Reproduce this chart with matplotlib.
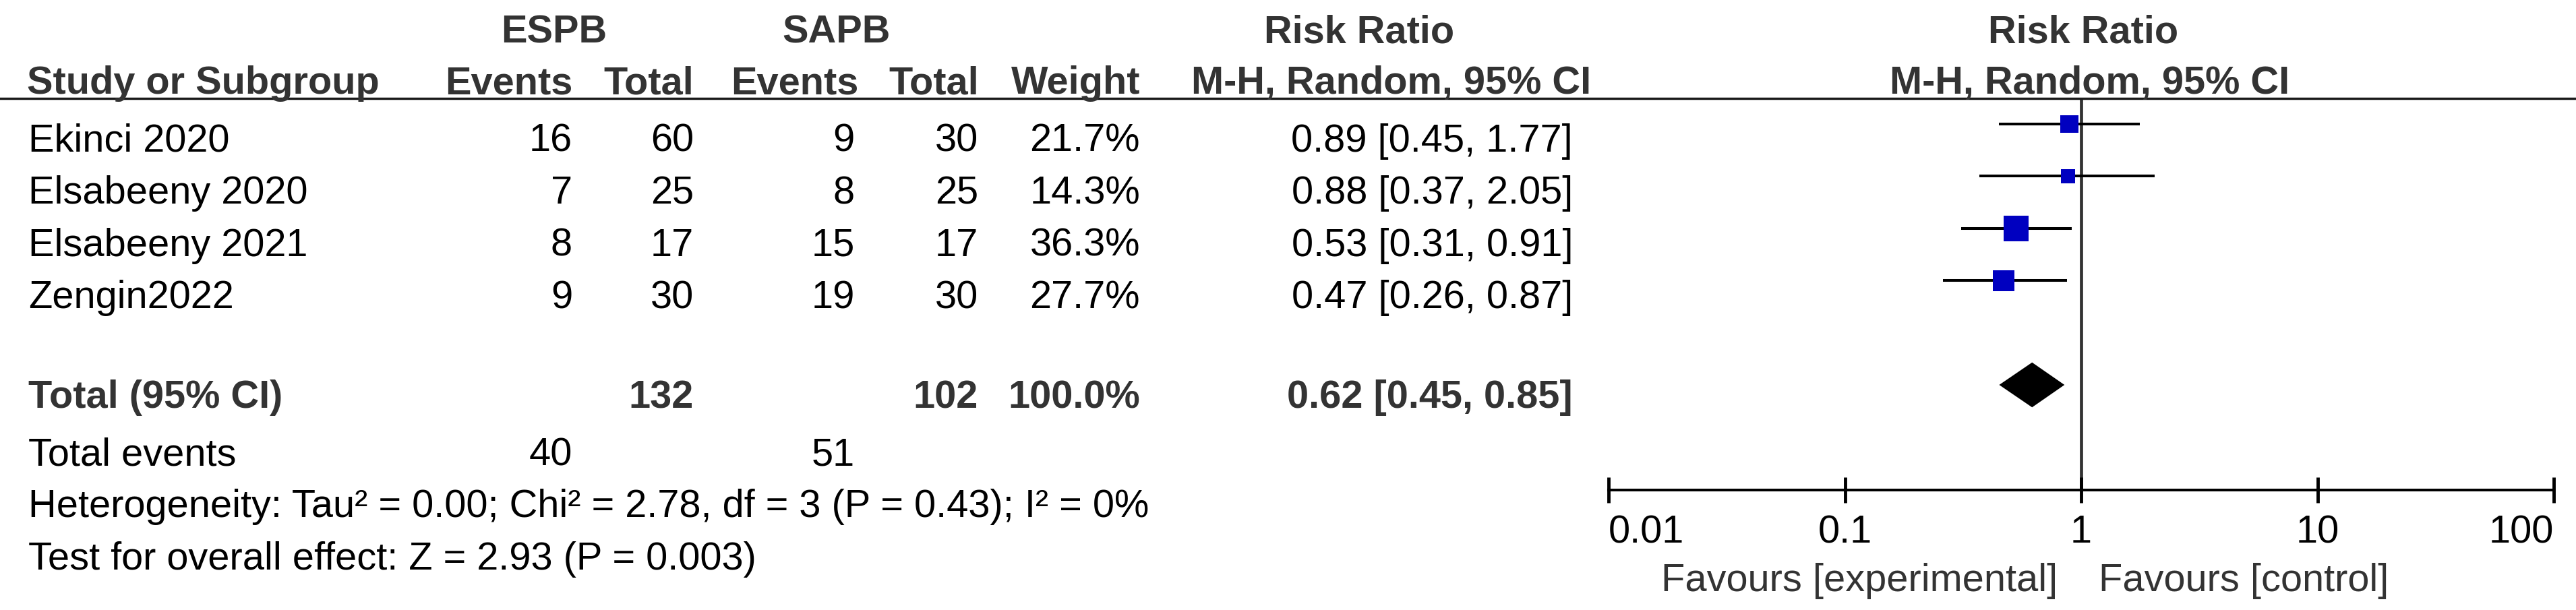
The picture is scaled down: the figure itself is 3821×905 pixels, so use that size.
import numpy as np
import matplotlib
matplotlib.use("Agg")
import matplotlib.pyplot as plt
from matplotlib.transforms import blended_transform_factory
from matplotlib.patches import Polygon
from matplotlib.lines import Line2D
from matplotlib.ticker import NullLocator

# DATA
studies = ["Ekinci 2020", "Elsabeeny 2020", "Elsabeeny 2021", "Zengin2022"]
espb_events = [16, 7, 8, 9]
espb_total = [60, 25, 17, 30]
sapb_events = [9, 8, 15, 19]
sapb_total = [30, 25, 17, 30]
weights = [21.7, 14.3, 36.3, 27.7]
rr = [0.89, 0.88, 0.53, 0.47]
ci_low = [0.45, 0.37, 0.31, 0.26]
ci_high = [1.77, 2.05, 0.91, 0.87]

pooled = [0.62, 0.45, 0.85]
sum_total = [132, 102]
sum_events = [40, 51]
het_text = "Heterogeneity: Tau² = 0.00; Chi² = 2.78, df = 3 (P = 0.43); I² = 0%"
test_text = "Test for overall effect: Z = 2.93 (P = 0.003)"

xticks = [0.01, 0.1, 1, 10, 100]
xtick_labels = ["0.01", "0.1", "1", "10", "100"]
favours = ["Favours [experimental]", "Favours [control]"]

plt.rcParams['font.family'] = ['Liberation Sans', 'DejaVu Sans']

W, H = 3821, 905
FS = 41.6
GREY = '#333333'

fig = plt.figure(figsize=(W / 100, H / 100), dpi=100)
ax = fig.add_axes([2386 / W, 1 - 727 / H, (3788 - 2386) / W, (727 - 146) / H])
ax.set_xscale('log')
ax.set_xlim(0.01, 100)
ax.set_ylim(7.015, -0.49)

rows = np.arange(len(studies))

# CI LINES AND WEIGHTED SQUARES
ax.hlines(rows, ci_low, ci_high, color='black', lw=2.9, zorder=2)
side = 7.3 + 0.547 * np.array(weights)
ax.scatter(rr, rows, s=side ** 2, marker='s', color='#0000C0',
           linewidths=0, zorder=3)

# POOLED DIAMOND
y_tot = 5
h = 0.43
est, lo, hi = pooled
ax.add_patch(Polygon([[lo, y_tot], [est, y_tot - h], [hi, y_tot],
                      [est, y_tot + h]], closed=True,
                     facecolor='black', edgecolor='black', lw=0, zorder=3))

ax.axvline(1, color=GREY, lw=3.4, zorder=1)

for s in ['top', 'left', 'right']:
    ax.spines[s].set_visible(False)
ax.spines['bottom'].set_linewidth(2.9)
ax.set_yticks([])
ax.set_xticks(xticks)
ax.xaxis.set_minor_locator(NullLocator())
labels = ax.set_xticklabels(xtick_labels)
ax.tick_params(axis='x', direction='inout', length=28, width=3.5,
               pad=12, labelsize=FS, colors='black')
labels[0].set_ha('left')
labels[-1].set_ha('right')

# HEADER LINE
fig.add_artist(Line2D([0, 1], [1 - 146 / H] * 2, transform=fig.transFigure,
                      color='#1a1a1a', lw=2.5))

tr = blended_transform_factory(fig.transFigure, ax.transData)


def put(x_px, y, s, ha='left', **kw):
    fig.text(x_px / W, y, s, transform=tr, ha=ha, va='baseline',
             fontsize=FS, **kw)


hb = dict(color=GREY, weight='bold')

# HEADERS
put(822, -1.56, "ESPB", ha='center', **hb)
put(1241, -1.56, "SAPB", ha='center', **hb)
put(2016, -1.56, "Risk Ratio", ha='center', **hb)
put(3090, -1.56, "Risk Ratio", ha='center', **hb)
put(40, -0.58, "Study or Subgroup", **hb)
put(849, -0.58, "Events", ha='right', **hb)
put(1029, -0.58, "Total", ha='right', **hb)
put(1273, -0.58, "Events", ha='right', **hb)
put(1452, -0.58, "Total", ha='right', **hb)
put(1691, -0.58, "Weight", ha='right', **hb)
put(2360, -0.58, "M-H, Random, 95% CI", ha='right', **hb)
put(3100, -0.58, "M-H, Random, 95% CI", ha='center', **hb)

# STUDY ROWS
for i in rows:
    y = i + 0.53
    put(42, y, studies[i])
    put(849, y, str(espb_events[i]), ha='right')
    put(1029, y, str(espb_total[i]), ha='right')
    put(1268, y, str(sapb_events[i]), ha='right')
    put(1451, y, str(sapb_total[i]), ha='right')
    put(1691, y, f"{weights[i]:.1f}%", ha='right')
    put(2333, y, f"{rr[i]:.2f} [{ci_low[i]:.2f}, {ci_high[i]:.2f}]",
        ha='right')

# TOTALS
put(42, 5.44, "Total (95% CI)", **hb)
put(1029, 5.44, str(sum_total[0]), ha='right', **hb)
put(1451, 5.44, str(sum_total[1]), ha='right', **hb)
put(1691, 5.44, f"{sum(weights):.1f}%", ha='right', **hb)
put(2333, 5.44, f"{est:.2f} [{lo:.2f}, {hi:.2f}]", ha='right', **hb)

put(42, 6.54, "Total events")
put(849, 6.54, str(sum_events[0]), ha='right')
put(1268, 6.54, str(sum_events[1]), ha='right')
put(42, 7.53, het_text)
put(42, 8.54, test_text)

# FAVOURS LABELS
put(3052, 8.95, favours[0], ha='right', color=GREY)
put(3113, 8.95, favours[1], ha='left', color=GREY)

fig.savefig("out.png", dpi=100)
